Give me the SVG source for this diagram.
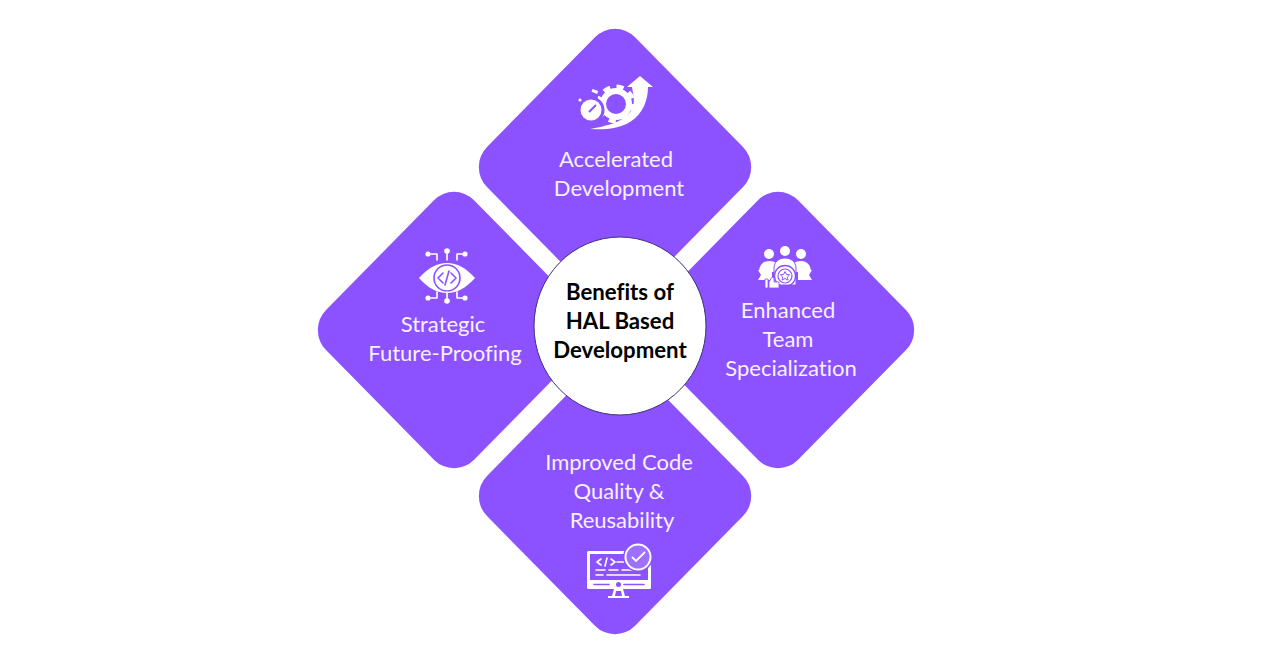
<svg xmlns="http://www.w3.org/2000/svg" width="1280" height="671" viewBox="0 0 1280 671">
<style>
.d{fill:#8c52ff}
.t{font-family:"Lato","Noto Sans",sans-serif;font-size:22px;fill:#f7f0ff;text-anchor:middle;font-variant-ligatures:none}
.b{font-family:"Lato","Noto Sans",sans-serif;font-size:22.200px;font-weight:700;fill:#000;text-anchor:middle;font-variant-ligatures:none}
.w{fill:#fff}
.p{fill:#8c52ff}
.ls{fill:none;stroke:#fff;stroke-width:1.600;stroke-linecap:round;stroke-linejoin:round}
.lp{fill:none;stroke:#8c52ff;stroke-width:1.600;stroke-linecap:round;stroke-linejoin:round}
</style>
<defs><rect id="dm" x="-104.500" y="-104.500" width="209" height="209" rx="28" ry="28" class="d" transform="rotate(45)"/></defs>
<rect width="1280" height="671" fill="#fff"/>
<g id="node-accelerated">
<use href="#dm" transform="translate(615 167) scale(1 1.015)"/>
<path class="w" d="M590 129C606 126 627 122 633 107C635 100 633 94 632 87L627 87L640 76L653 87L648 87C648 100 643 114 630 122C618 129 604 130 590 129Z"/>
<circle cx="616" cy="104" r="13" fill="none" stroke="#fff" stroke-width="6"/>
<circle cx="616" cy="104" r="17" fill="none" stroke="#fff" stroke-width="5" stroke-dasharray="7 6.350"/>
<circle class="p" cx="591" cy="110" r="13.500"/>
<circle class="w" cx="591" cy="110" r="10.500"/>
<path d="M589 112L596 105" stroke="#8c52ff" stroke-width="2" fill="none"/>
<circle class="w" cx="580" cy="100" r="1.600"/><rect class="w" x="592" y="90" width="6" height="3" transform="rotate(20 595 91)"/>
<text class="t" x="616" y="167">Accelerated</text>
<text class="t" x="619" y="196">Development</text>
</g>
<g id="node-strategic">
<use href="#dm" transform="translate(454 330) scale(1 1.015)"/>
<path class="w" d="M419 278C428 268 437 263 447 263C457 263 466 268 475 278C466 288 457 293 447 293C437 293 428 288 419 278Z"/>
<circle cx="447" cy="278" r="13" fill="none" stroke="#8c52ff" stroke-width="1.600"/>
<path class="lp" d="M443 273L438 278L443 283M451 273L456 278L451 283M449 271L445 285"/>
<path class="ls" d="M431 254H437V260M447 253V260M463 254H457V260M431 298H437V292M447 292V299M463 298H457V292"/>
<circle class="w" cx="428" cy="254" r="2.600"/><circle class="w" cx="447" cy="251" r="2.800"/><circle class="w" cx="465" cy="254" r="2.600"/>
<circle class="w" cx="428" cy="298" r="2.600"/><circle class="w" cx="447" cy="301" r="2.800"/><circle class="w" cx="465" cy="298" r="2.600"/>
<text class="t" x="443" y="332">Strategic</text>
<text class="t" x="445" y="361">Future-Proofing</text>
</g>
<g id="node-team">
<use href="#dm" transform="translate(778 330) scale(1 1.015)"/>
<circle class="w" cx="769" cy="254" r="5"/><circle class="w" cx="785" cy="251" r="5"/><circle class="w" cx="801" cy="254" r="5"/>
<path class="w" d="M759 272C759 265 763 261 769 261C775 261 779 264 780 270L790 270C791 264 795 261 801 261C807 261 811 265 811 272Z"/>
<path class="w" d="M758 270H772V280H758L761 275Z"/><path class="w" d="M812 270H798V280H812L809 275Z"/>
<path class="w" d="M774 285V268C774 262 779 258 785 258C791 258 796 262 796 268V285Z" stroke="#8c52ff" stroke-width="1"/>
<circle cx="785" cy="276" r="10.500" fill="none" stroke="#8c52ff" stroke-width="1.300"/>
<circle cx="785" cy="276" r="7" fill="none" stroke="#8c52ff" stroke-width="1.200"/>
<path d="M785 271.500l1.400 2.900 3.200.4-2.300 2.200.6 3.100-2.900-1.600-2.900 1.600.6-3.100-2.300-2.200 3.200-.4z" fill="none" stroke="#8c52ff" stroke-width="1"/>
<path class="w" d="M765 279h3v9h-3zM769 288V282L772 277L774 278V282H779V288Z" stroke="#8c52ff" stroke-width=".800"/>
<text class="t" x="788" y="318">Enhanced</text>
<text class="t" x="788" y="347">Team</text>
<text class="t" x="791" y="376">Specialization</text>
</g>
<g id="node-quality">
<use href="#dm" transform="translate(615 496) scale(1 1.015)"/>
<rect class="w" x="587" y="551" width="64" height="38" rx="1.500"/>
<rect class="p" x="590" y="554" width="58" height="26"/>
<path class="ls" stroke-width="1.300" d="M601 559L597 562L601 565M611 559L615 562L611 565M605 566L607 558M617 562H624M596 570H605M609 570H618M622 570H640M596 575H603M607 575H640"/>
<path class="lp" d="M594 584.500H609M624 584.500H644" stroke-width="1.400"/>
<circle class="p" cx="618.500" cy="584.500" r="2.500"/>
<path class="w" d="M614 589H623L625 596H629V598H608V596H612Z"/>
<path class="p" d="M616 591H621L622 596H615Z"/>
<circle class="p" cx="638" cy="557" r="15"/>
<circle cx="638" cy="557" r="12.500" fill="#9f70ff" stroke="#fff" stroke-width="2"/>
<path d="M632 557L636 561L645 552" fill="none" stroke="#fff" stroke-width="1.800"/>
<text class="t" x="619" y="470">Improved Code</text>
<text class="t" x="619" y="499">Quality &amp;</text>
<text class="t" x="622" y="528">Reusability</text>
</g>
<g id="node-center">
<ellipse cx="620" cy="326" rx="86" ry="89" fill="#fff" stroke="#3d2f7a" stroke-width="1"/>
<text class="b" x="620" y="300">Benefits of</text>
<text class="b" x="620" y="329">HAL Based</text>
<text class="b" x="620" y="358">Development</text>
</g>
<g id="connectors"/>
</svg>
